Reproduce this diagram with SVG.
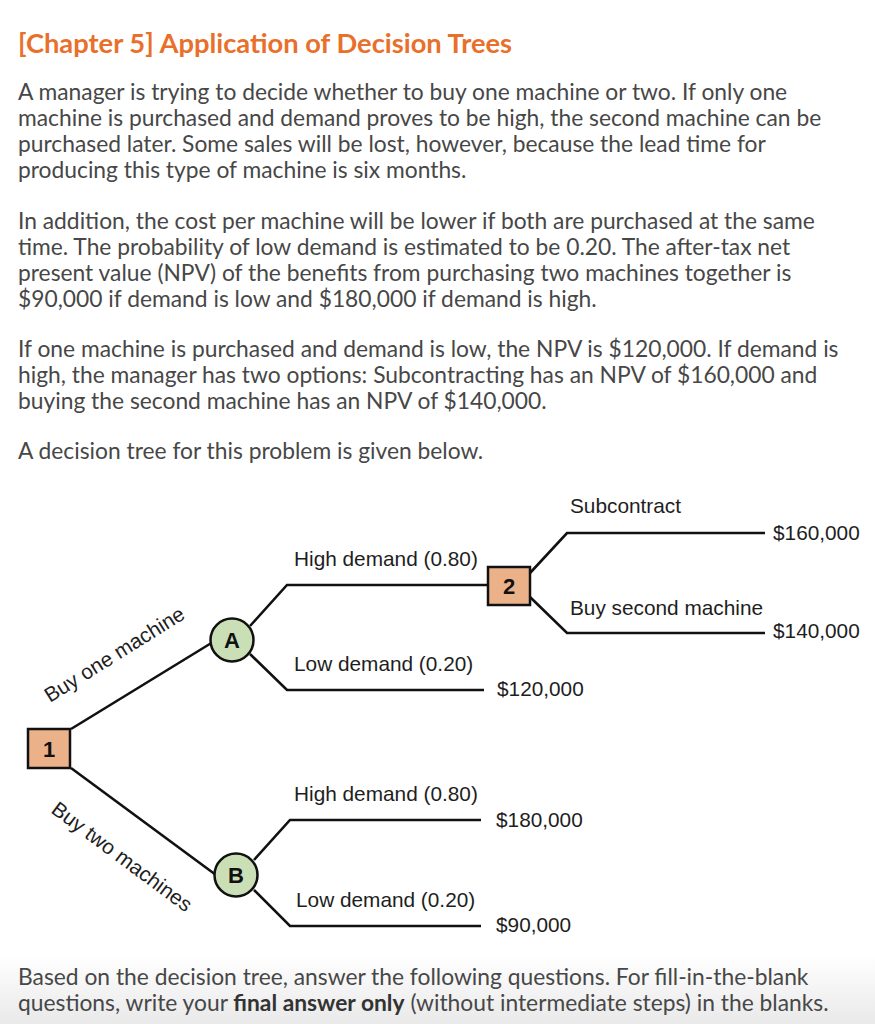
<svg xmlns="http://www.w3.org/2000/svg" width="875" height="1024" viewBox="0 0 875 1024">
<defs>
<linearGradient id="fade" x1="0" y1="0" x2="0" y2="1">
<stop offset="0" stop-color="#ffffff"/>
<stop offset="1" stop-color="#e9e9e9"/>
</linearGradient>
<style>
.title{font-family:Lato,"Liberation Sans",sans-serif;font-weight:bold;font-size:27.3px;fill:#e8702b}
.body{font-family:Lato,"Liberation Sans",sans-serif;font-size:22.8px;fill:#474747}
.lbl{font-family:"Liberation Sans",Arial,sans-serif;font-size:20.8px;fill:#1e1e1e}
.nid{font-family:"Liberation Sans",Arial,sans-serif;font-size:22px;font-weight:bold;fill:#111;text-anchor:middle}
.dec{fill:#ebb189;stroke:#111;stroke-width:2.5}
.chance{fill:#cbdfb7;stroke:#111;stroke-width:2.5}
.edge{fill:none;stroke:#111;stroke-width:2.6;stroke-linejoin:miter}
</style>
</defs>
<rect x="0" y="0" width="875" height="1024" fill="#ffffff"/>
<rect x="0" y="955" width="875" height="69" fill="url(#fade)"/>

<g id="text">
<text class="title" x="18" y="53">[Chapter 5] Application of Decision Trees</text>
<text class="body" x="18" y="100">A manager is trying to decide whether to buy one machine or two. If only one</text>
<text class="body" x="18" y="126">machine is purchased and demand proves to be high, the second machine can be</text>
<text class="body" x="18" y="152">purchased later. Some sales will be lost, however, because the lead time for</text>
<text class="body" x="18" y="178">producing this type of machine is six months.</text>
<text class="body" x="18" y="229">In addition, the cost per machine will be lower if both are purchased at the same</text>
<text class="body" x="18" y="255">time. The probability of low demand is estimated to be 0.20. The after-tax net</text>
<text class="body" x="18" y="281">present value (NPV) of the benefits from purchasing two machines together is</text>
<text class="body" x="18" y="307">$90,000 if demand is low and $180,000 if demand is high.</text>
<text class="body" x="18" y="357">If one machine is purchased and demand is low, the NPV is $120,000. If demand is</text>
<text class="body" x="18" y="383">high, the manager has two options: Subcontracting has an NPV of $160,000 and</text>
<text class="body" x="18" y="409">buying the second machine has an NPV of $140,000.</text>
<text class="body" x="18" y="459">A decision tree for this problem is given below.</text>
<text class="body" x="18" y="985">Based on the decision tree, answer the following questions. For fill-in-the-blank</text>
<text class="body" x="18" y="1011">questions, write your <tspan font-weight="bold" fill="#333">final answer only</tspan> (without intermediate steps) in the blanks.</text>
</g>

<g id="connectors">
<polyline class="edge" points="71,729 213,642"/>
<polyline class="edge" points="71,768 216,875"/>
<polyline class="edge" points="250,626 287,585 488,585"/>
<polyline class="edge" points="250,654 287,690 484,690"/>
<polyline class="edge" points="530,573 567,533 765,533"/>
<polyline class="edge" points="530,597 567,633 765,633"/>
<polyline class="edge" points="254,860 290,820 481,820"/>
<polyline class="edge" points="254,890 290,926 481,926"/>
</g>

<g id="edge-labels">
<text class="lbl" transform="translate(50,703) rotate(-32)">Buy one machine</text>
<text class="lbl" transform="translate(50,812) rotate(36.6)">Buy two machines</text>
<text class="lbl" x="294" y="566">High demand (0.80)</text>
<text class="lbl" x="294" y="671">Low demand (0.20)</text>
<text class="lbl" x="294" y="801">High demand (0.80)</text>
<text class="lbl" x="296" y="907">Low demand (0.20)</text>
<text class="lbl" x="570" y="513">Subcontract</text>
<text class="lbl" x="570" y="615">Buy second machine</text>
</g>

<g id="payoffs">
<text class="lbl" x="773" y="540">$160,000</text>
<text class="lbl" x="773" y="638">$140,000</text>
<text class="lbl" x="497" y="696">$120,000</text>
<text class="lbl" x="496" y="827">$180,000</text>
<text class="lbl" x="496" y="932">$90,000</text>
</g>

<g id="node-1">
<rect class="dec" x="28" y="729" width="42" height="39"/>
<text class="nid" x="49" y="756.5">1</text>
</g>
<g id="node-A">
<circle class="chance" cx="232" cy="640" r="21.5"/>
<text class="nid" x="232" y="648">A</text>
</g>
<g id="node-2">
<rect class="dec" x="488" y="567" width="42" height="38"/>
<text class="nid" x="509" y="594">2</text>
</g>
<g id="node-B">
<circle class="chance" cx="236" cy="875" r="21.5"/>
<text class="nid" x="236" y="883">B</text>
</g>
</svg>
